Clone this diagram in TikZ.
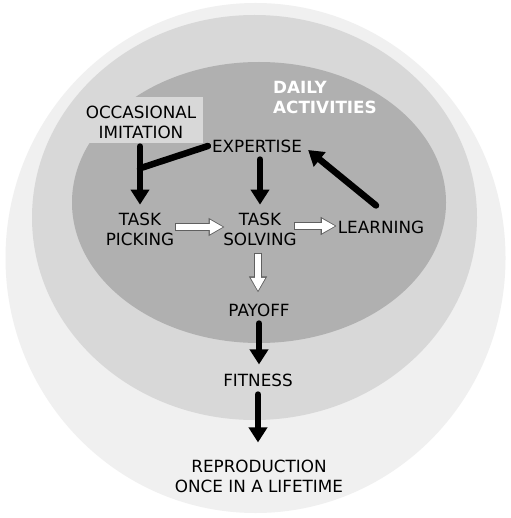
\documentclass[tikz,border=0pt]{standalone}
\usepackage{fontspec}
\setmainfont{DejaVu Sans}
\usetikzlibrary{arrows.meta,calc}
\definecolor{ringout}{HTML}{F0F0F0}
\definecolor{ringmid}{HTML}{D8D8D8}
\definecolor{ringin}{HTML}{B0B0B0}
\definecolor{wline}{HTML}{606060}
\tikzset{
  lbl/.style={font=\fontsize{16.8}{20}\selectfont, text=black, align=center, inner sep=1pt},
  barrow/.style={draw=black, line width=6.5pt, line cap=round, -{Triangle[length=15pt,width=18pt]}},
  tbar/.style={draw=black, line width=6.5pt, line cap=round},
  wout/.style={draw=wline, line width=7.5pt, -{Triangle[length=16pt,width=17pt]}},
  win/.style={draw=white, line width=5.5pt, shorten >=1.6pt, shorten <=1pt, -{Triangle[length=13pt,width=13.5pt]}},
}
\newcommand{\whitearrow}[2]{\draw[wout] #1 -- #2; \draw[win] #1 -- #2;}
\begin{document}
\begin{tikzpicture}[x=1pt,y=-1pt]
\useasboundingbox (0,0) rectangle (510,518);
\fill[white] (0,0) rectangle (510,518);
\fill[ringout] (255.5,258) ellipse [x radius=250, y radius=255];
\fill[ringmid] (254.5,217.5) ellipse [x radius=222.5, y radius=202.5];
\fill[ringin] (259,202.5) ellipse [x radius=187, y radius=140.5];
\fill[ringmid] (80,97) rectangle (203,143);

\node[lbl] (occ) at (141,122) {OCCASIONAL\\IMITATION};
\node[lbl] (exp) at (257,146) {EXPERTISE};
\node[lbl] (tp) at (140,229) {TASK\\PICKING};
\node[lbl] (ts) at (260,229) {TASK\\SOLVING};
\node[lbl] (learn) at (381,227) {LEARNING};
\node[lbl] (pay) at (259,310) {PAYOFF};
\node[lbl] (fit) at (258,380) {FITNESS};
\node[lbl] (rep) at (259,476) {REPRODUCTION\\ONCE IN A LIFETIME};
\node[lbl, text=white, font=\fontsize{16.8}{20}\selectfont\bfseries, align=left, anchor=west, inner sep=0pt] (daily) at (273,97) {DAILY\\ACTIVITIES};

\draw[barrow, shorten <=7pt, shorten >=6.8pt] (tp.north |- occ.south) -- (tp.north);
\draw[tbar] ($(exp.west)+(-3,0)$) -- ($(tp.north |- occ.south)!0.4!(tp.north)$);
\draw[barrow, shorten <=6pt, shorten >=6.8pt] (ts.north |- exp.south) -- (ts.north);
\draw[barrow] ($(learn.north)+(-5,-14)$) -- ($(exp.east)+(5,4)$);
\draw[barrow, shorten <=6pt, shorten >=8pt] (pay.south) -- (pay.south |- fit.north);
\draw[barrow, shorten <=7pt, shorten >=16pt] (fit.south) -- (fit.south |- rep.north);

\whitearrow{($(tp.east)+(0,-2)$)}{($(ts.west)+(2.5,-2)$)}
\whitearrow{($(ts.east)+(-4,-3)$)}{($(learn.west)+(0,-1)$)}
\whitearrow{($(ts.south)+(-2,6)$)}{($(pay.north)+(-1,-10)$)}
\end{tikzpicture}
\end{document}
